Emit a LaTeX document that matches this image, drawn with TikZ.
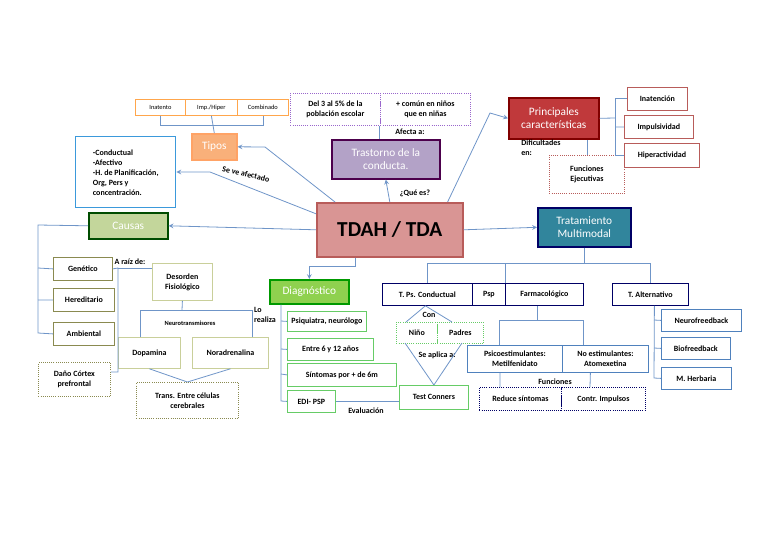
\documentclass[tikz,border=0pt]{standalone}
\usepackage{fontspec}
\setmainfont{Carlito}
\usetikzlibrary{calc}
\definecolor{ln}{HTML}{6F95C8}
\definecolor{bl}{HTML}{4F81BD}
\definecolor{gr}{HTML}{66CC66}
\definecolor{ol}{HTML}{C9CF9A}
\definecolor{dol}{HTML}{8A8A50}
\definecolor{rd}{HTML}{B85C5A}
\definecolor{pu}{HTML}{9966CC}
\definecolor{tipf}{HTML}{F9B07A}
\definecolor{cauf}{HTML}{C3D69B}
\definecolor{traf}{HTML}{B3A2C7}
\definecolor{tdaf}{HTML}{D99594}
\definecolor{prif}{HTML}{C0393B}
\definecolor{tmmf}{HTML}{31859C}
\definecolor{diaf}{HTML}{8FD14F}
\newcommand\bx[7]{\node[#6, anchor=north west, minimum width={(#4-#2)*0.75pt}, minimum height={(#5-#3)*0.75pt}] (#1) at (#2,#3) {#7};}
\begin{document}
\begin{tikzpicture}[x=0.75pt,y=-0.75pt,
  every node/.style={font=\fontsize{6}{7.5}\selectfont\bfseries, align=center, inner sep=1pt},
  b/.style={draw, line width=0.6pt},
  ttl/.style={b, text=white, font=\fontsize{8.5}{10}\selectfont, line width=1.2pt},
  dt/.style={b, densely dotted},
  lk/.style={draw=ln, line width=0.6pt},
  ar/.style={lk, ->, >=stealth},
  lb/.style={font=\fontsize{6}{7.5}\selectfont\bfseries}]
\useasboundingbox (0,0) rectangle (768,543);
% top row
\bx{ina}{135}{99}{185}{115}{b, draw=orange!70, font=\fontsize{4.8}{5}\selectfont}{Inatento}
\bx{imp}{185}{99}{237}{115}{b, draw=orange!70, font=\fontsize{4.8}{5}\selectfont}{Imp./Hiper}
\bx{com}{237}{99}{288}{115}{b, draw=orange!70, font=\fontsize{4.8}{5}\selectfont}{Combinado}
\bx{del}{290}{93}{380}{125}{dt, draw=pu}{Del 3 al 5\% de la\\población escolar}
\bx{mas}{380}{93}{470}{125}{dt, draw=pu}{+ común en niños\\que en niñas}
\bx{tip}{191}{133}{236}{159}{ttl, fill=tipf, draw=orange!80!red!60}{Tipos}
\bx{lst}{75}{136}{175}{207}{b, draw=cyan!70!blue!80, line width=1.1pt, align=left}{-Conductual\\-Afectivo\\-H. de Planificación,\\Org, Pers y\\concentración.}
\bx{cau}{88}{212}{167}{238}{ttl, fill=cauf, draw=green!30!black}{Causas}
\bx{tra}{331}{139}{439}{178}{ttl, fill=traf, draw=violet!60!black}{Trastorno de la\\conducta.}
\bx{tda}{316}{202}{462}{256}{ttl, fill=tdaf, draw=rd, text=black, font=\fontsize{16}{18}\selectfont\bfseries}{TDAH / TDA}
\bx{pri}{508}{97}{598}{138}{ttl, fill=prif, draw=red!50!black}{Principales\\características}
\bx{inn}{627}{87}{687}{110}{b, draw=rd}{Inatención}
\bx{imu}{624}{115}{693}{138}{b, draw=rd}{Impulsividad}
\bx{hip}{624}{143}{699}{167}{b, draw=rd}{Hiperactividad}
\bx{fej}{549}{155}{624}{193}{dt, draw=rd}{Funciones\\Ejecutivas}
\node[lb, align=left] at (541,148) {Dificultades\\en:};
\bx{tmm}{537}{207}{630}{246}{ttl, fill=tmmf, draw=blue!40!black}{Tratamiento\\Multimodal}
% treatments
\bx{tps}{382}{283}{472}{305}{b, draw=blue!40!black}{T. Ps. Conductual}
\bx{psp}{472}{283}{505}{305}{b, draw=blue!40!black}{Psp}
\bx{far}{505}{283}{583}{305}{b, draw=blue!40!black}{Farmacológico}
\bx{tal}{612}{283}{688}{305}{b, draw=blue!40!black}{T. Alternativo}
\bx{nin}{396}{322}{437}{343}{dt, draw=gr}{Niño}
\bx{pad}{437}{322}{483}{343}{dt, draw=gr}{Padres}
\bx{tco}{399}{385}{468}{409}{b, draw=gr}{Test Conners}
\bx{pse}{467}{345}{562}{372}{b, draw=bl}{Psicoestimulantes:\\Metilfenidato}
\bx{nes}{562}{345}{648}{372}{b, draw=bl}{No estimulantes:\\Atomexetina}
\bx{red}{479}{387}{561}{410}{dt, draw=blue!40!black}{Reduce síntomas}
\bx{con}{561}{387}{645}{410}{dt, draw=blue!40!black}{Contr. Impulsos}
\bx{neu}{661}{309}{741}{331}{b, draw=bl}{Neurofreedback}
\bx{bio}{661}{337}{730}{359}{b, draw=bl}{Biofreedback}
\bx{her}{661}{367}{731}{389}{b, draw=bl}{M. Herbaria}
% diagnostico
\bx{dia}{269}{279}{348}{303}{ttl, fill=diaf, draw=green!60!black}{Diagnóstico}
\bx{psi}{287}{311}{366}{331}{b, draw=gr}{Psiquiatra, neurólogo}
\bx{ent}{287}{338}{373}{360}{b, draw=gr}{Entre 6 y 12 años}
\bx{sin}{287}{363}{396}{386}{b, draw=gr}{Síntomas por + de 6m}
\bx{edi}{287}{390}{335}{412}{b, draw=gr}{EDI- PSP}
% causas
\bx{gen}{53}{257}{112}{280}{b, draw=dol}{Genético}
\bx{her2}{53}{288}{114}{311}{b, draw=dol}{Hereditario}
\bx{amb}{53}{322}{114}{345}{b, draw=dol}{Ambiental}
\bx{dan}{38}{362}{110}{396}{dt, draw=dol}{Daño Córtex\\prefrontal}
\bx{des}{152}{263}{212}{300}{b, draw=ol}{Desorden\\Fisiológico}
\bx{dop}{118}{337}{180}{368}{b, draw=ol}{Dopamina}
\bx{nor}{192}{337}{268}{368}{b, draw=ol}{Noradrenalina}
\bx{trn}{136}{382}{238}{418}{dt, draw=dol}{Trans. Entre células\\cerebrales}
% labels
\node[lb] at (410,132) {Afecta a:};
\node[lb] at (415,193) {¿Qué es?};
\node[lb, rotate=-13] at (246,174) {Se ve afectado};
\node[lb] at (130,262) {A raíz de:};
\node[lb, font=\fontsize{4.8}{5}\selectfont\bfseries] at (190,323) {Neurotransmisores};
\node[lb, align=left] at (265,315) {Lo\\realiza};
\node[lb] at (429,315) {Con};
\node[lb] at (437,355) {Se aplica a:};
\node[lb] at (366,411) {Evaluación};
\node[lb] at (555,382) {Funciones};
% connectors from TDAH
\draw[ar] (tda.north west) ++(19,0) -- (265,147) -- (tip.east);
\draw[ar] (tda.west) ++(0,-16) -- (210,172) -- (lst.east |- 0,172);
\draw[ar] (tda.west) -- (cau.east);
\draw[ar] (tda.north) -- (tra.south);
\draw[lk] (tra.north) ++(-6,0) coordinate (tt) -- (del.south east -| tt);
\draw[ar] (tda.north east) ++(-16,0) -- (490,113) -- (pri.west);
\draw[ar] (tda.east) -- (tmm.west);
\draw[ar] (tda.south) ++(-34,0) -- ++(0,9) -| (dia.north);
% tipos
\draw[lk] (tip.north) -- (imp.south);
\draw[lk] (ina.south) ++(0,10) coordinate (tb) -- (com.south |- tb) -- (com.south);
\draw[lk] (ina.south) -- (tb);
% principales
\draw[lk] (pri.east) -- (615,118);
\draw[lk] (inn.west |- 0,98) -- (615,98) -- (615,155) -- (hip.west |- 0,155);
\draw[lk] (615,127) -- (imu.west);
\draw[lk] (fej.north) -- (fej.north |- pri.south);
% treatment bus
\draw[lk] (tmm.south) -- (tmm.south |- 0,263);
\draw[lk] (tps.north |- 0,263) -- (tal.north |- 0,263) -- (tal.north);
\draw[lk] (tps.north |- 0,263) -- (tps.north);
\draw[lk] (psp.north east |- 0,263) -- (psp.north east);
\draw[lk] (far.north west |- 0,263) -- (far.north west);
% con / se aplica
\coordinate (cj) at ($(tps.south)+(-2,0)$);
\draw[lk] (cj) -- (406,322);
\draw[lk] (cj) -- (452,322);
\draw[lk] (405,343) -- (tco.north);
\draw[lk] (462,343) -- (tco.north);
% farmacologico
\draw[lk] (far.south) ++(-7,0) -- ++(0,15);
\draw[lk] (499,320) -- (583,320);
\draw[lk] (499,320) -- (pse.north -| 499,0);
\draw[lk] (583,320) -- (nes.north -| 583,0);
\draw[lk] (pse.south) ++(-15,0) -- (red.north -| 500,0);
\draw[lk] (nes.south) ++(-15,0) -- (con.north -| 590,0);
% alternativo
\draw[lk] (tal.south) ++(4,0) -- (654,378) -- (her.west);
\draw[lk] (654,320) -- (neu.west);
\draw[lk] (654,348) -- (bio.west);
% diagnostico
\draw[lk] (dia.south west) ++(12,0) -- (281,401) -- (edi.west);
\draw[lk] (281,321) -- (psi.west);
\draw[lk] (281,349) -- (ent.west);
\draw[lk] (281,374) -- (sin.west);
\draw[lk] (edi.east) -- (tco.west |- edi.east);
% causas
\draw[lk] (cau.west) -- (38,225) -- (38,333) -- (amb.west);
\draw[lk] (38,268) -- (gen.west);
\draw[lk] (38,300) -- (her2.west);
\draw[lk] (gen.east) -- (118,268) -- (118,372) -- (dan.east |- 0,372);
\draw[lk] (118,268) -- (152,268);
\draw[lk] (des.south) -- (182,310);
\draw[lk] (140,310) -- (252,310);
\draw[lk] (140,310) -- (140,337);
\draw[lk] (252,310) -- (252,337);
\draw[lk] (dop.south) -- (trn.north);
\draw[lk] (nor.south) -- (trn.north);
\end{tikzpicture}
\end{document}
